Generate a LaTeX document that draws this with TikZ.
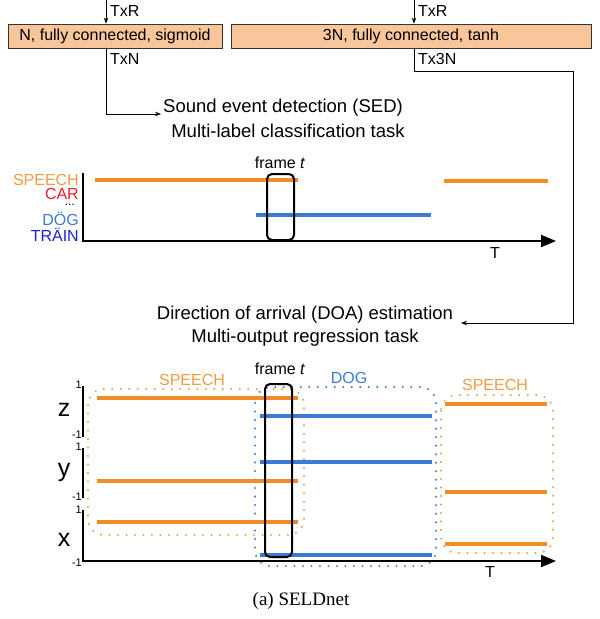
\documentclass[tikz,border=0pt]{standalone}
\usepackage{fontspec}
\setmainfont{Liberation Sans}
\newfontfamily\capfont{Liberation Serif}
\usetikzlibrary{arrows.meta}
\definecolor{bar}{HTML}{F28C28}
\definecolor{lab}{HTML}{F39A45}
\definecolor{dog}{HTML}{3A7BD5}
\definecolor{carred}{HTML}{E3202B}
\definecolor{train}{HTML}{1A22D0}
\definecolor{boxfill}{HTML}{F9C59B}
\begin{document}
\begin{tikzpicture}[x=1pt,y=-1pt,
  layerbox/.style={draw=black!80,fill=boxfill,line width=0.8pt,minimum height=24pt,inner sep=0pt,font=\fontsize{16}{18}\selectfont},
  lbl/.style={font=\fontsize{16}{18}\selectfont,inner sep=0pt},
  title/.style={font=\fontsize{18.5}{22}\selectfont,inner sep=0pt},
  small/.style={font=\fontsize{11}{12}\selectfont,inner sep=0pt},
  big/.style={font=\fontsize{25}{26}\selectfont,inner sep=0pt},
  conn/.style={line width=0.8pt,-{Stealth[length=6pt,width=4.5pt]}},
  axis/.style={line width=2pt},
  axarrow/.style={line width=2pt,-{Triangle[length=15pt,width=12pt]}},
  obar/.style={bar,line width=4.5pt},
  bbar/.style={dog,line width=4.5pt},
  framebox/.style={draw=black,line width=2pt,rounded corners=5pt},
  odots/.style={lab,line width=2.2pt,line cap=round,dash pattern=on 0pt off 8.5pt,rounded corners=16pt},
  bdots/.style={dog,line width=2.2pt,line cap=round,dash pattern=on 0pt off 8.5pt,rounded corners=16pt}]
\useasboundingbox (0,0) rectangle (600,619);

% layer boxes
\node[layerbox,minimum width=214pt] (b1) at (115,36) {N, fully connected, sigmoid};
\node[layerbox,minimum width=360pt] (b2) at (411,36) {3N, fully connected, tanh};
\coordinate (in1) at (106,-2);
\coordinate (in2) at (414,-2);
\draw[conn] (in1) -- (in1 |- b1.north);
\draw[conn] (in2) -- (in2 |- b2.north);
\node[lbl,anchor=west] (txr1) at (110,11) {TxR};
\node[lbl,anchor=west] (txr2) at (418,11) {TxR};
\node[lbl,anchor=west] (txn) at (110,59) {TxN};
\node[lbl,anchor=west] (tx3n) at (418,59) {Tx3N};

% SED title
\node[title,anchor=west] (sed1) at (163,108) {Sound event detection (SED)};
\node[title] (sed2) at (288,131) {Multi-label classification task};
\coordinate (sedtip) at (161,114);
\draw[conn] (b1.south -| in1) |- (sedtip);

% DOA title
\node[title] (doa1) at (305,315) {Direction of arrival (DOA) estimation};
\node[title] (doa2) at (305,338) {Multi-output regression task};
\coordinate (doatip) at (461,323);
\draw[conn] (b2.south -| in2) -- (414,71) -- (573,71) -- (573,323) -- (doatip);

% SED plot
\node[lbl,anchor=east,text=lab] (sp) at (79,180) {SPEECH};
\node[lbl,anchor=east,text=carred] (car) at (79,194) {CAR};
\node[font=\fontsize{12}{12}\selectfont,inner sep=0pt,anchor=east] (dots) at (75,205) {...};
\node[lbl,anchor=east,text=dog] (dg) at (79,219) {DÖG};
\node[lbl,anchor=east,text=train] (tr) at (79,235) {TRÄIN};
\draw[obar] (95,180) -- (298,180);
\draw[obar] (444,181) -- (548,181);
\draw[bbar] (256,215) -- (431,215);
\draw[axarrow] (83,173) -- (83,241) -- (556,241);
\node[lbl] (T1) at (495,253) {T};
\node[framebox,minimum width=27pt,minimum height=66pt] (f1) at (280.5,207) {};
\node[lbl] (ft1) at (280,163) {frame \textit{t}};

% DOA plot
\node[lbl] (ft2) at (280,369) {frame \textit{t}};
\draw[odots] (88,389) rectangle (304,535);
\draw[bdots] (255,387) rectangle (436,566);
\draw[odots] (441,395) rectangle (553,553);
\node[lbl,text=lab] (sp2) at (192,380) {SPEECH};
\node[lbl,text=dog] (dg2) at (349,378) {DOG};
\node[lbl,text=lab] (sp3) at (495,385) {SPEECH};

\draw[obar] (97,398) -- (298,398);
\draw[obar] (97,481) -- (298,481);
\draw[obar] (97,522) -- (298,522);
\draw[bbar] (260,416) -- (432,416);
\draw[bbar] (260,462) -- (432,462);
\draw[bbar] (260,555) -- (432,555);
\draw[obar] (445,404) -- (547,404);
\draw[obar] (445,492) -- (547,492);
\draw[obar] (445,544) -- (547,544);

\node[framebox,minimum width=27pt,minimum height=173pt] (f2) at (278.5,470.5) {};

\draw[axis] (83,386) -- (83,437);
\draw[axis] (83,448) -- (83,498);
\draw[axarrow] (83,510) -- (83,561) -- (556,561);
\node[lbl] (T2) at (490,572) {T};
\node[small,anchor=east] (z1) at (82,385) {1};
\node[small,anchor=east] (zm) at (82,435) {-1};
\node[small,anchor=east] (y1) at (82,447) {1};
\node[small,anchor=east] (ym) at (82,497) {-1};
\node[small,anchor=east] (x1) at (82,510) {1};
\node[small,anchor=east] (xm) at (82,563) {-1};
\node[big] (zl) at (64,410) {z};
\node[big] (yl) at (64,472) {y};
\node[big] (xl) at (64,540) {x};

% caption
\node[font=\capfont\fontsize{19}{22}\selectfont,inner sep=0pt] (cap) at (301,601) {(a) SELDnet};
\end{tikzpicture}
\end{document}
